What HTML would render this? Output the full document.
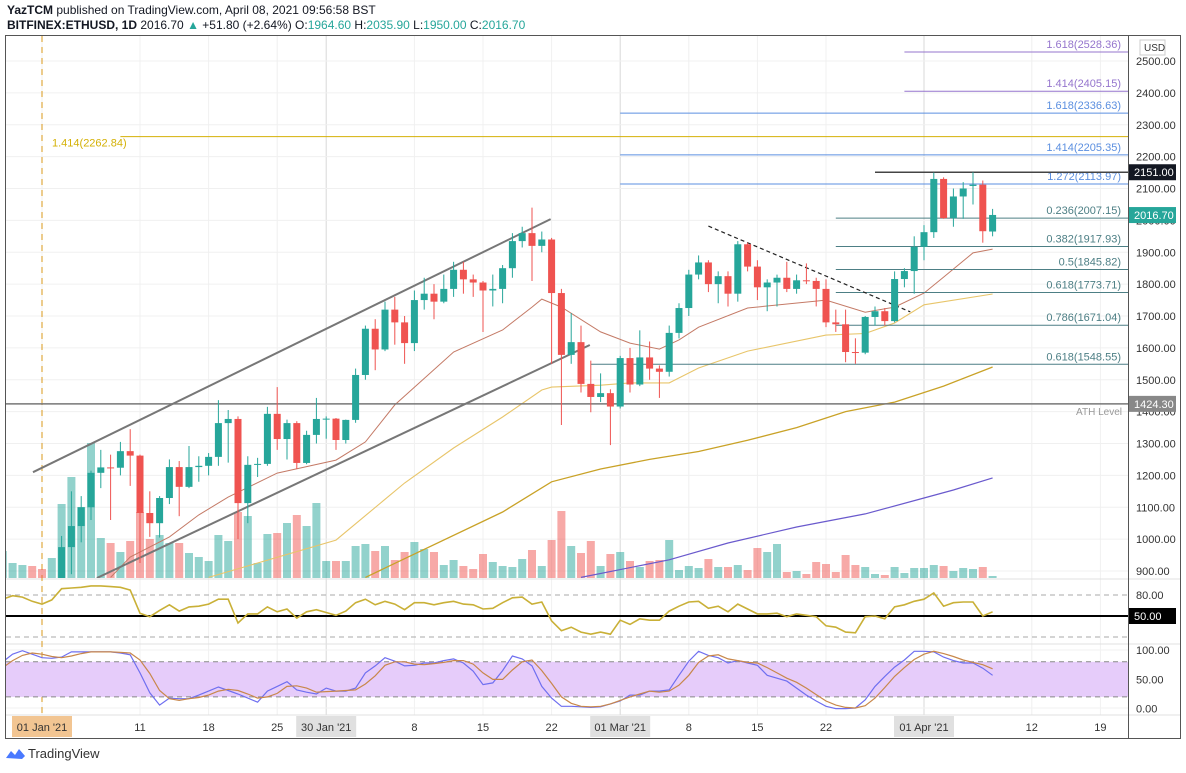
<!DOCTYPE html>
<html><head><meta charset="utf-8"><style>
html,body{margin:0;padding:0;background:#fff;}
body{width:1186px;height:768px;overflow:hidden;font-family:"Liberation Sans",sans-serif;}
svg text{font-family:"Liberation Sans",sans-serif;}
</style></head><body>
<svg id="chart" width="1186" height="768" viewBox="0 0 1186 768" xmlns="http://www.w3.org/2000/svg">
<defs><clipPath id="pc"><rect x="6" y="36" width="1122" height="542"/></clipPath>
<clipPath id="rc"><rect x="6" y="579" width="1122" height="136"/></clipPath></defs>
<rect x="0" y="0" width="1186" height="768" fill="#fff"/>
<text x="7" y="14" font-size="12" fill="#131722"><tspan font-weight="bold">YazTCM</tspan> published on TradingView.com, April 08, 2021 09:56:58 BST</text>
<text x="7" y="29" font-size="12" fill="#131722"><tspan font-weight="bold">BITFINEX:ETHUSD, 1D</tspan>  2016.70 <tspan fill="#26a69a">▲</tspan> +51.80 (+2.64%) O:<tspan fill="#26a69a">1964.60</tspan> H:<tspan fill="#26a69a">2035.90</tspan> L:<tspan fill="#26a69a">1950.00</tspan> C:<tspan fill="#26a69a">2016.70</tspan></text>
<g id="grid"></g>
<g id="volume" clip-path="url(#pc)"></g>
<g id="mas" clip-path="url(#pc)"></g>
<g id="fibs"></g>
<g id="drawings" clip-path="url(#pc)"></g>
<g id="candles" clip-path="url(#pc)"></g>
<g id="osc" clip-path="url(#rc)"></g>
<g id="axes"></g>
<rect x="5.5" y="35.5" width="1175" height="703" fill="none" stroke="#555" stroke-width="1"/>
<g>
<path d="M6 758 L11 751 L15 755 L19 749 L25 756 L22 759 Z" fill="#2962ff" opacity="0.85"/>
<text x="28" y="758" font-size="13" fill="#333">TradingView</text></g>
</svg>
<script>
const startDay = -4;
const opens  = [683,731,732,752,737,730,775,975,1041,1100,1208,1225,1224,1276,1262,1082,1050,1129,1226,1164,1226,1230,1258,1364,1377,1113,1233,1236,1393,1314,1364,1239,1327,1377,1378,1311,1374,1515,1660,1595,1720,1680,1615,1750,1770,1745,1785,1845,1815,1805,1780,1785,1850,1935,1960,1920,1940,1772,1578,1618,1487,1446,1458,1416,1568,1485,1570,1535,1525,1647,1725,1830,1868,1800,1825,1770,1925,1855,1790,1805,1820,1785,1812,1810,1785,1680,1674,1587,1585,1697,1715,1684,1816,1841,1917,1963,2130,2007,2075,2108,2112,1965];
const highs  = [745,740,755,755,750,788,1010,1150,1135,1215,1280,1265,1305,1345,1265,1150,1135,1250,1245,1292,1260,1270,1436,1405,1385,1260,1255,1415,1477,1375,1370,1340,1443,1385,1380,1375,1535,1670,1690,1745,1760,1700,1780,1820,1800,1830,1870,1870,1830,1810,1830,1860,1960,1980,2040,1965,1945,1785,1709,1670,1560,1520,1470,1575,1600,1655,1620,1545,1670,1740,1845,1890,1875,1840,1840,1935,1930,1875,1815,1830,1870,1830,1865,1820,1815,1720,1720,1630,1700,1730,1725,1840,1850,1950,1985,2150,2135,2100,2120,2151,2125,2036];
const lows   = [680,705,715,715,715,715,765,890,990,1060,1160,1060,1200,1167,925,1007,1005,1110,1072,1160,1180,1200,1230,1240,1000,1050,1195,1230,1280,1250,1220,1235,1300,1315,1280,1300,1365,1500,1530,1590,1610,1550,1590,1720,1690,1740,1760,1770,1760,1650,1730,1740,1820,1915,1810,1900,1550,1358,1550,1460,1398,1430,1295,1410,1460,1480,1500,1443,1510,1630,1700,1815,1775,1740,1730,1745,1840,1750,1715,1730,1775,1770,1800,1730,1665,1650,1555,1550,1580,1670,1670,1680,1790,1770,1875,1945,2005,1980,2005,2050,1930,1950];
const closes = [731,732,752,737,730,775,975,1041,1100,1208,1225,1224,1276,1262,1082,1050,1129,1226,1164,1226,1230,1258,1364,1377,1113,1233,1236,1393,1314,1364,1239,1327,1377,1378,1311,1374,1515,1660,1595,1720,1680,1615,1750,1770,1745,1785,1845,1815,1805,1780,1785,1850,1935,1960,1920,1940,1772,1578,1618,1487,1446,1458,1416,1568,1485,1570,1535,1525,1647,1725,1830,1868,1800,1825,1770,1925,1855,1790,1805,1820,1785,1812,1810,1785,1680,1674,1587,1585,1697,1715,1684,1816,1841,1917,1963,2130,2007,2075,2100,2112,1966,2017];
const volumes = [27,15,13,12,9,20,74,101,71,135,40,35,26,37,66,39,43,35,35,25,21,17,43,37,66,62,15,44,45,55,63,52,75,17,17,17,32,34,27,32,18,26,36,29,26,13,18,12,9,24,16,12,11,19,28,12,38,67,32,25,37,12,24,26,17,11,17,18,38,8,12,10,19,11,11,13,8,30,26,34,6,7,4,16,14,6,23,13,11,4,3,11,5,10,10,13,12,7,10,9,11,2];
const rsi = [74,79,77,71,67,73,89,90,91,93,93,92,91,87,54,49,58,66,57,63,64,67,74,74,40,53,53,63,56,60,47,56,59,55,51,57,69,74,66,71,67,59,69,69,66,69,71,67,66,60,61,69,76,77,67,70,43,29,34,27,24,27,24,44,38,46,44,44,57,64,70,71,61,64,56,67,60,53,53,54,49,53,51,49,36,34,27,26,49,50,46,63,66,71,74,83,64,69,70,70,50,56];
const stochK = [80,93,99,93,87,86,88,97,97,97,97,97,95,92,61,27,6,18,17,17,23,30,37,31,25,18,11,30,38,46,32,28,25,35,30,30,35,61,73,87,81,73,74,78,78,82,85,78,64,41,44,65,90,85,73,38,18,4,4,3,2,3,8,13,23,23,30,30,32,57,81,98,91,87,78,82,78,74,57,52,47,35,23,13,4,0,0,1,15,38,55,71,83,98,98,97,88,82,78,78,69,57];
const stochD = [70,82,91,95,93,89,87,90,94,97,97,97,96,95,83,60,31,17,14,17,19,23,30,33,31,25,18,20,26,38,39,35,28,29,30,31,32,42,56,74,80,80,76,75,77,79,82,82,76,61,50,50,66,80,83,65,43,20,9,4,3,4,8,14,20,25,30,28,30,40,57,79,90,92,85,82,79,78,70,61,52,45,35,24,13,6,2,1,5,18,36,55,70,84,93,98,94,89,83,79,75,68];
const ma20Days = [7,9,13,16,19,24,30,33,36,42,47,50,51,53,57,60,63,65,67,72,80,84,87,90,92,95,97];
const ma20Vals = [880,944,1007,1076,1132,1207,1248,1305,1421,1587,1656,1728,1753,1728,1650,1615,1596,1625,1665,1725,1750,1712,1728,1772,1822,1898,1910];
const ma50Days = [17,30,37,42,47,51,52,57,60,64,67,72,80,84,87,90,97];
const ma50Vals = [880,997,1176,1286,1383,1468,1477,1483,1490,1490,1537,1590,1640,1645,1678,1735,1769];
const ma100Days = [33,47,52,57,62,67,72,77,82,87,92,97];
const ma100Vals = [880,1085,1180,1220,1250,1275,1310,1350,1400,1430,1480,1540];
const ma200Days = [55,64,70,77,84,90,93,97];
const ma200Vals = [880,935,988,1038,1079,1129,1154,1192];
const priceTicks = [900,1000,1100,1200,1300,1400,1500,1600,1700,1800,1900,2000,2100,2200,2300,2400,2500];
const dateTickDays = [0,10,17,24,29,38,45,52,59,66,73,80,90,101,108];
const dateTickLabels = ["01 Jan '21","11","18","25","30 Jan '21","8","15","22","01 Mar '21","8","15","22","01 Apr '21","12","19"];
const fibPrices = [2528.36,2405.15,2336.63,2262.84,2205.35,2113.97,2007.15,1917.93,1845.82,1773.71,1671.04,1548.55];
const fibLabels = ["1.618","1.414","1.618","1.414","1.414","1.272","0.236","0.382","0.5","0.618","0.786","0.618"];
const fibStartDays = [88,88,59,8,59,59,81,81,81,81,81,56];

const NS="http://www.w3.org/2000/svg";
const xDay = d => 42 + 9.8*d;
const yP = p => 571 - (p-900)*0.31875;
const yR = v => 616 - (v-50)*0.7;
const yS = v => 708.6 - v*0.585;
function mk(parent, tag, attrs){const e=document.createElementNS(NS,tag);for(const k in attrs)e.setAttribute(k,attrs[k]);document.getElementById(parent).appendChild(e);return e;}

// grid
dateTickDays.forEach((d,i)=>{
  const l=mk('grid','line',{x1:xDay(d),x2:xDay(d),y1:36,y2:715,stroke:(i===4||i===8||i===12)?'#d8d8d8':'#f0f0f0','stroke-width':1});
  
  
});
priceTicks.forEach(p=>{
  const l=mk('grid','line',{x1:6,x2:1128,y1:yP(p),y2:yP(p),stroke:'#f0f0f0','stroke-width':1});
  
  
});
[650,679,708].forEach(y=>{const l=mk('grid','line',{x1:6,x2:1128,y1:y,y2:y,stroke:'#f2f2f2'});});
// pane separators
[579,644,715].forEach(y=>{const l=mk('grid','line',{x1:6,x2:1181,y1:y,y2:y,stroke:'#e0e0e0'});});
const vsep=mk('grid','line',{x1:1128.5,x2:1128.5,y1:36,y2:738,stroke:'#555'});


// Jan 1 dashed marker
const jm=mk('grid','line',{x1:xDay(0),x2:xDay(0),y1:36,y2:715,stroke:'#e0a940','stroke-width':1.2,'stroke-dasharray':'6 5'});



// volume
volumes.forEach((v,i)=>{
  const up = closes[i]>=opens[i];
  const r=mk('volume','rect',{x:xDay(i+startDay)-4,y:578-v,width:8,height:v,fill:up?'rgba(38,166,154,0.5)':'rgba(239,83,80,0.5)'});
  
  
});

// moving averages
function maLine(days,vals,color,name,w){
  const pts=days.map((d,i)=>xDay(d).toFixed(1)+','+yP(vals[i]).toFixed(1)).join(' ');
  const l=mk('mas','polyline',{points:pts,fill:'none',stroke:color,'stroke-width':w});
  
  
}
maLine(ma200Days,ma200Vals,'#6a5acd','ma-200-line',1.2);
maLine(ma100Days,ma100Vals,'#c9a227','ma-100-line',1.3);
maLine(ma50Days,ma50Vals,'#e8c56a','ma-50-line',1.1);
maLine(ma20Days,ma20Vals,'#c47a66','ma-20-line',1);

// fib & level lines
const fibColor = p => p>2400?'#9575cd':(Math.abs(p-2262.84)<1?'#d4b106':(p>2100?'#5b8fe0':'#4d7f85'));
fibPrices.forEach((p,i)=>{
  const c=fibColor(p), y=yP(p);
  const l=mk('fibs','line',{x1:xDay(fibStartDays[i]),x2:1128,y1:y,y2:y,stroke:c,'stroke-width':1});
  
  
  const left = fibStartDays[i]<20;
  const t=mk('fibs','text',{x:left?52:1121,y:left?y+10:y-4,'font-size':11,fill:c,'text-anchor':left?'start':'end'});
  t.textContent=fibLabels[i]+'('+p.toFixed(2)+')';
  
  
});
const hl=mk('fibs','line',{x1:xDay(85),x2:1128,y1:yP(2151),y2:yP(2151),stroke:'#444','stroke-width':1.5});


const ath=mk('fibs','line',{x1:6,x2:1128,y1:yP(1424.3),y2:yP(1424.3),stroke:'#777','stroke-width':1.5});


const athT=mk('fibs','text',{x:1122,y:yP(1424.3)+11,'font-size':10,fill:'#999','text-anchor':'end'});
athT.textContent='ATH Level';



// trend drawings
function tl(d1,p1,d2,p2,name,extra){
  const l=mk('drawings','line',Object.assign({x1:xDay(d1),y1:yP(p1),x2:xDay(d2),y2:yP(p2),stroke:'#777','stroke-width':2},extra||{}));
  
  
}
tl(-0.92,1210,51.9,2004,'channel-upper-line');
tl(5.6,878,55.9,1609,'channel-lower-line');
tl(68,1982,88.6,1713,'descending-trendline',{stroke:'#222','stroke-width':1.2,'stroke-dasharray':'4 3'});

// candles
closes.forEach((c,i)=>{
  const o=opens[i], x=xDay(i+startDay), up=c>=o, col=up?'#26a69a':'#ef5350';
  const w=mk('candles','line',{x1:x,x2:x,y1:yP(highs[i]),y2:yP(lows[i]),stroke:col,'stroke-width':1});
  
  
  const top=yP(Math.max(o,c)), h=Math.max(1,yP(Math.min(o,c))-top);
  const b=mk('candles','rect',{x:x-3.5,y:top,width:7,height:h,fill:col});
  
  
});

// RSI pane
[595,637].forEach(y=>{const l=mk('osc','line',{x1:6,x2:1128,y1:y,y2:y,stroke:'#aaa','stroke-dasharray':'5 4'});});
const r50=mk('osc','line',{x1:6,x2:1128,y1:616,y2:616,stroke:'#000','stroke-width':2});


const rl=mk('osc','polyline',{points:rsi.map((v,i)=>xDay(i+startDay).toFixed(1)+','+yR(v).toFixed(1)).join(' '),fill:'none',stroke:'#c9b037','stroke-width':1.6});


// Stoch RSI
const band=mk('osc','rect',{x:6,y:yS(80),width:1122,height:yS(20)-yS(80),fill:'#e6ccfa'});


[80,20].forEach(v=>{const l=mk('osc','line',{x1:6,x2:1128,y1:yS(v),y2:yS(v),stroke:'#888','stroke-dasharray':'5 4'});});
const sk=mk('osc','polyline',{points:stochK.map((v,i)=>xDay(i+startDay).toFixed(1)+','+yS(v).toFixed(1)).join(' '),fill:'none',stroke:'#6f6ff0','stroke-width':1.2});


const sd=mk('osc','polyline',{points:stochD.map((v,i)=>xDay(i+startDay).toFixed(1)+','+yS(v).toFixed(1)).join(' '),fill:'none',stroke:'#c8874a','stroke-width':1.2});



// price axis
priceTicks.forEach(p=>{
  const t=mk('axes','text',{x:1136,y:yP(p)+4,'font-size':11,fill:'#333'});
  t.textContent=p.toFixed(2);
  
  
});
[[80,'80.00',595],[100,'100.00',yS(100)],[50,'50.00',yS(50)],[0,'0.00',yS(0)]].forEach(a=>{
  const t=mk('axes','text',{x:1136,y:a[2]+4,'font-size':11,fill:'#333'});
  t.textContent=a[1];
  
  
});
function tag(p_y,label,bg,fg,name){
  const r=mk('axes','rect',{x:1129,y:p_y-8,width:47,height:16,fill:bg});
  
  
  const t=mk('axes','text',{x:1134,y:p_y+4,'font-size':11,fill:fg});
  t.textContent=label;
  
  
}
tag(yP(2151),'2151.00','#131722','#fff','high-price-tag');
tag(yP(2016.7),'2016.70','#26a69a','#fff','last-price-tag');
tag(yP(1424.3),'1424.30','#888','#fff','ath-price-tag');
tag(616,'50.00','#000','#fff','rsi-50-tag');
const usd=mk('axes','rect',{x:1140,y:40,width:25,height:15,fill:'#fff',stroke:'#ccc'});


const usdT=mk('axes','text',{x:1144,y:51,'font-size':10,fill:'#333'});
usdT.textContent='USD';



// time axis
dateTickDays.forEach((d,i)=>{
  const x=xDay(d), lab=dateTickLabels[i], boxed=lab.length>3;
  if(boxed){
    const r=mk('axes','rect',{x:x-30,y:716,width:60,height:21,fill:i===0?'#f2c592':'#e0e0e0'});
    
    
  }
  const t=mk('axes','text',{x:x,y:731,'font-size':11,fill:'#333','text-anchor':'middle'});
  t.textContent=lab;
  
  
});
</script>
</body></html>
